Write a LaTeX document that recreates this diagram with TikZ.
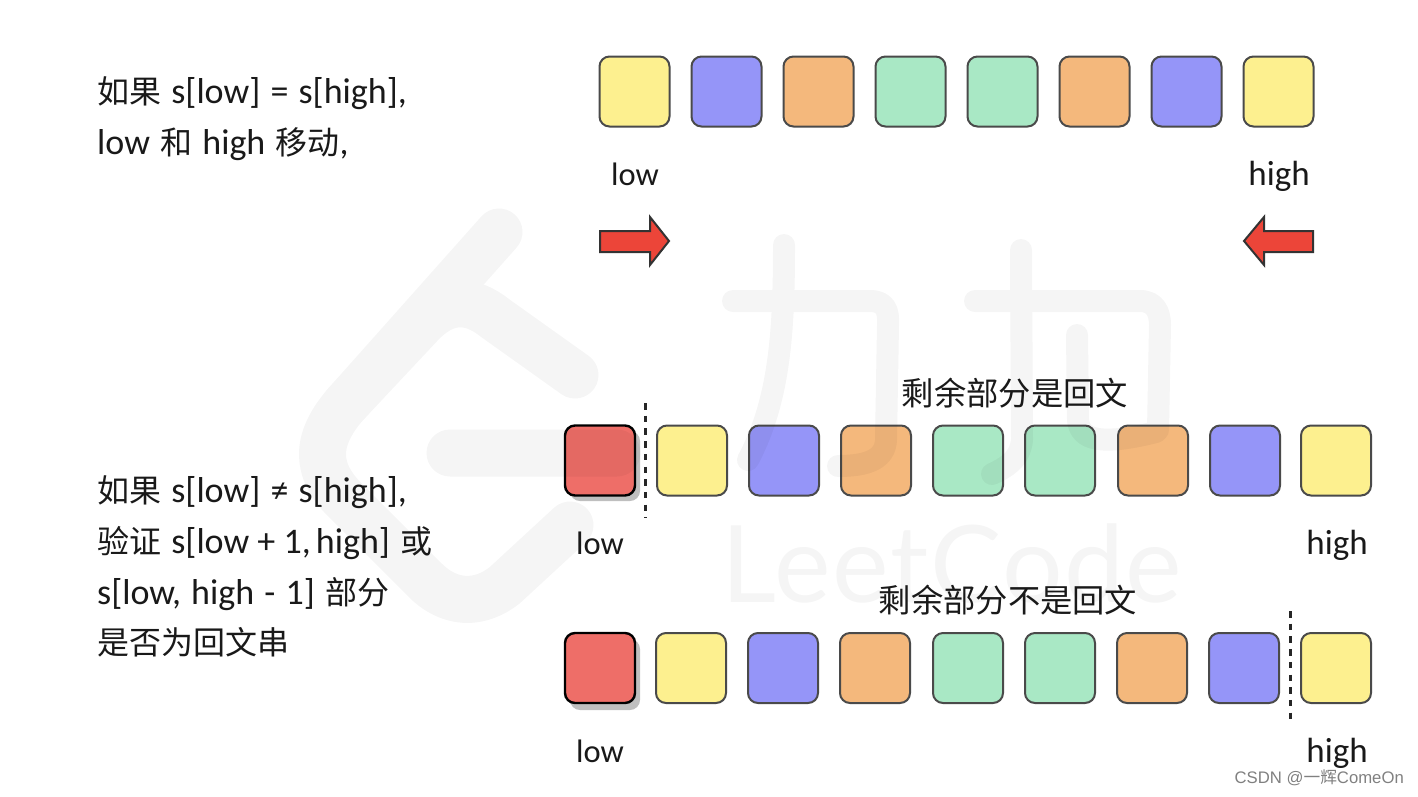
\documentclass[tikz,border=0pt]{standalone}
\usepackage{fontspec}
\setmainfont{Carlito}[WordSpace=1.25]
\newfontfamily\cjkf{Noto Sans CJK SC}
\newfontfamily\wmf{Liberation Sans}
\newfontfamily\lcf{Lato}[LetterSpace=1.5]
\definecolor{cy}{HTML}{FDF08F}
\definecolor{cb}{HTML}{9595F8}
\definecolor{co}{HTML}{F4B87C}
\definecolor{cg}{HTML}{A9E8C5}
\definecolor{cr}{HTML}{EE6E68}
\definecolor{edgec}{HTML}{4A4A4A}
\definecolor{arrowc}{HTML}{EC4539}
\newcommand{\zh}[1]{{\cjkf\fontsize{32}{32}\selectfont #1}}
\newcommand{\zhb}[1]{{\cjkf\fontsize{32.3}{32.3}\selectfont #1}}
\tikzset{
  x=1pt,y=-1pt,
  cell/.style={draw=edgec,line width=2pt,rounded corners=10pt,minimum size=70pt,inner sep=0pt,outer sep=0pt,shape=rectangle},
  redcell/.style={cell,fill=cr,draw=black,line width=2.4pt},
  lowlab/.style={font=\fontsize{32.5}{33}\selectfont,inner sep=0pt,anchor=base,text=black!90},
  highlab/.style={font=\fontsize{35}{35}\selectfont,inner sep=0pt,anchor=base,text=black!90},
  para/.style={font=\fontsize{36}{36}\selectfont,inner sep=0pt,anchor=base west,text=black!90},
  title/.style={inner sep=0pt,text=black!90},
  wmline/.style={line width=47pt,line cap=round,line join=round},
  wmthin/.style={line width=22pt,line cap=round,line join=round},
  cut/.style={line width=3pt,dash pattern=on 6.5pt off 6.2pt,black!85},
  redarrow/.style={draw=black!80,line width=2pt,fill=arrowc,line join=miter}
}
\begin{document}
\begin{tikzpicture}
\useasboundingbox (0,0) rectangle (1418,796);
% row 1
\foreach \i/\c/\px in {1/cy/634.5,2/cb/726.5,3/co/818.5,4/cg/910.5,5/cg/1002.5,6/co/1094.5,7/cb/1186.5,8/cy/1278.5}
  \node[cell,fill=\c] (a\i) at (\px,91.5) {};
% row 2
\fill[black!25,rounded corners=10pt] (570,431) rectangle (640,501);
\node[redcell] (b1) at (600,460.5) {};
\foreach \i/\c/\px in {2/cy/692,3/cb/784,4/co/876,5/cg/968,6/cg/1060,7/co/1153,8/cb/1245,9/cy/1336}
  \node[cell,fill=\c] (b\i) at (\px,460.5) {};
% row 3
\fill[black!25,rounded corners=10pt] (570,639) rectangle (640,710);
\node[redcell] (c1) at (600,668) {};
\foreach \i/\c/\px in {2/cy/691,3/cb/783,4/co/875,5/cg/968,6/cg/1060,7/co/1152,8/cb/1244,9/cy/1336}
  \node[cell,fill=\c] (c\i) at (\px,668) {};
% watermark, laid over the cells so that they show it through
\begin{scope}[transparency group,opacity=.04,draw=black]
  \draw[wmline] (499,232) -- (345,405) .. controls (315,440) and (315,470) .. (345,500)
     -- (425,580) .. controls (450,605) and (480,605) .. (505,585) -- (570,525);
  \draw[wmline] (345,405) -- (420,325) .. controls (445,298) and (470,298) .. (495,318) -- (575,375);
  \draw[wmline] (450,453) -- (617,453);
  \draw[wmthin] (733,301) -- (870,301) .. controls (885,301) and (889,310) .. (888,325)
     -- (886,440) .. controls (885,458) and (870,466) .. (838,466);
  \draw[wmthin] (784,245) .. controls (784,330) and (780,400) .. (748,460);
  \draw[wmthin] (975,301) -- (1140,301) .. controls (1155,301) and (1160,312) .. (1160,325) -- (1158,430);
  \draw[wmthin] (1021,250) -- (1022,440) .. controls (1020,460) and (1005,468) .. (992,474);
  \draw[wmthin] (1077,335) -- (1078,420) .. controls (1080,440) and (1100,446) .. (1156,432);
  \node[inner sep=0pt,text=black] (wm) at (952,564)
     {\lcf\fontsize{107}{107}\selectfont LeetCode};
\end{scope}
% arrows
\draw[redarrow] (600,231) -- (650,231) -- (650,217) -- (669,241) -- (650,265) -- (650,252) -- (600,252) -- cycle;
\draw[redarrow] (1313,231) -- (1264,231) -- (1264,217) -- (1244,241) -- (1264,265) -- (1264,252) -- (1313,252) -- cycle;
\coordinate (d1a) at (645,403); \coordinate (d1b) at (645,518);
\coordinate (d2a) at (1290,611); \coordinate (d2b) at (1290,725);
\draw[cut] (d1a) -- (d1b);
\draw[cut] (d2a) -- (d2b);
% labels
\node[lowlab] (l1) at (635,185) {low};
\node[highlab] (h1) at (1279,185) {high};
\node[lowlab] (l2) at (600,554) {low};
\node[highlab] (h2) at (1337,554) {high};
\node[lowlab] (l3) at (600,762) {low};
\node[highlab] (h3) at (1337,762) {high};
\node[title] (t1) at (1015,393) {\zhb{剩余部分是回文}};
\node[title] (t2) at (1008,600) {\zhb{剩余部分不是回文}};
% paragraphs
\node[para] (p1) at (97,103) {\zh{如果} s[low] = s[high],};
\node[para] (p2) at (97,154) {low \zh{和} high \zh{移动},};
\node[para] (p3) at (97,502) {\zh{如果} s[low] ≠ s[high],};
\node[para] (p4) at (97,553) {\zh{验证} s[low\hspace{-2pt} +\hspace{-2pt} 1,\hspace{-5pt} high] \zh{或}};
\node[para] (p5) at (97,604) {s[low, high - 1] \zh{部分}};
\node[para] (p6) at (97,654) {\zh{是否为回文串}};
\node[inner sep=0pt,anchor=east,text=black!50] (mark) at (1404,778)
  {\wmf\fontsize{16.7}{17}\selectfont CSDN @{\cjkf 一辉}ComeOn};
\end{tikzpicture}
\end{document}
